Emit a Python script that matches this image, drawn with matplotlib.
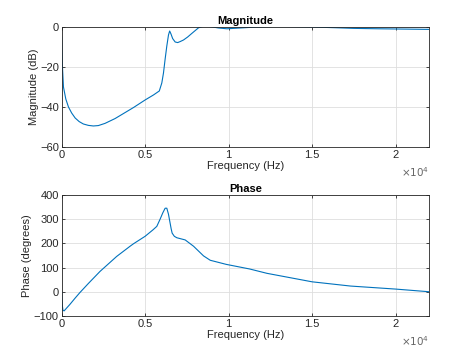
import numpy as np
import matplotlib.pyplot as plt
from matplotlib.ticker import FuncFormatter

# magnitude response (Hz, dB)
mag_freq = [0, 20, 50, 110, 250, 410, 600, 810, 1050, 1300, 1600, 1900, 2200,
            2600, 3200, 3700, 4300, 5000, 5500, 5850, 6000, 6100, 6200, 6300,
            6400, 6470, 6550, 6650, 6800, 6950, 7100, 7300, 7550, 7800, 8000,
            8200, 8500, 8900, 9400, 9900, 10500, 11500, 12500, 13500, 15000,
            16500, 17500, 19000, 20000, 21000, 22000]
mag_db = [-5, -12, -20, -30, -36, -40, -43, -45.5, -47.3, -48.5, -49.2, -49.5,
          -49.3, -48.2, -45.8, -43.3, -40.3, -36.5, -34, -32, -28, -23, -16, -9.5,
          -4, -2, -3.5, -5.8, -7.5, -7.8, -7.3, -6.5, -5, -3.2, -1.8, -0.4, 0.4,
          0.2, -0.5, -0.9, -0.6, -0.1, 0.2, 0.2, 0, -0.4, -0.7, -0.9, -1.0,
          -1.1, -1.2]

# phase response (Hz, degrees)
ph_freq = [0, 30, 80, 150, 500, 800, 1100, 1600, 2300, 3300, 4100, 4300, 5000,
           5460, 5700, 5900, 6060, 6200, 6300, 6400, 6480, 6560, 6620, 6750,
           6900, 7400, 7900, 8500, 8900, 9860, 11260, 12300, 15000, 17300,
           20000, 22000]
ph_deg = [0, -50, -77, -79, -52, -27, -3, 34, 84, 146, 188, 198, 229, 255, 270,
          300, 326, 345, 345, 320, 290, 260, 242, 229, 223, 214, 188, 148, 130,
          113, 94, 76, 41, 23.5, 11, 0]

xticks = [0, 5000, 10000, 15000, 20000]

plt.rcParams['font.family'] = ['Liberation Sans', 'DejaVu Sans']
line_col = '#0072BD'
axis_col = '0.15'

fig = plt.figure(figsize=(4.74, 3.55), dpi=100)
ax1 = fig.add_axes([0.13, 0.586, 0.775, 0.338])
ax2 = fig.add_axes([0.13, 0.110, 0.775, 0.341])

def style(ax):
    ax.set_xlim(0, 22000)
    ax.set_xticks(xticks)
    ax.xaxis.set_major_formatter(FuncFormatter(lambda v, p: '%g' % (v / 1e4)))
    ax.grid(True, color='0.87', linewidth=0.6)
    ax.set_axisbelow(True)
    ax.tick_params(direction='in', length=2.5, width=0.6, labelsize=8,
                   colors=axis_col, top=True, right=True, pad=2)
    for s in ax.spines.values():
        s.set_color(axis_col)
        s.set_linewidth(0.6)
    ax.set_xlabel('Frequency (Hz)', fontsize=8, color=axis_col, labelpad=1)
    ax.text(1.0, -0.15, r'$\times10^4$', transform=ax.transAxes, ha='right',
            va='top', fontsize=7.5, color='0.4')

ax1.plot(mag_freq, mag_db, color=line_col, linewidth=0.8)
style(ax1)
ax1.set_ylim(-60, 0)
ax1.set_yticks([-60, -40, -20, 0])
ax1.set_ylabel('Magnitude (dB)', fontsize=8, color=axis_col, labelpad=1)
ax1.set_title('Magnitude', fontsize=8, fontweight='bold', pad=2)

ax2.plot(ph_freq, ph_deg, color=line_col, linewidth=0.8)
style(ax2)
ax2.set_ylim(-100, 400)
ax2.set_yticks([-100, 0, 100, 200, 300, 400])
ax2.set_ylabel('Phase (degrees)', fontsize=8, color=axis_col, labelpad=1)
ax2.set_title('Phase', fontsize=8, fontweight='bold', pad=2)

fig.savefig('out.png', dpi=100)
